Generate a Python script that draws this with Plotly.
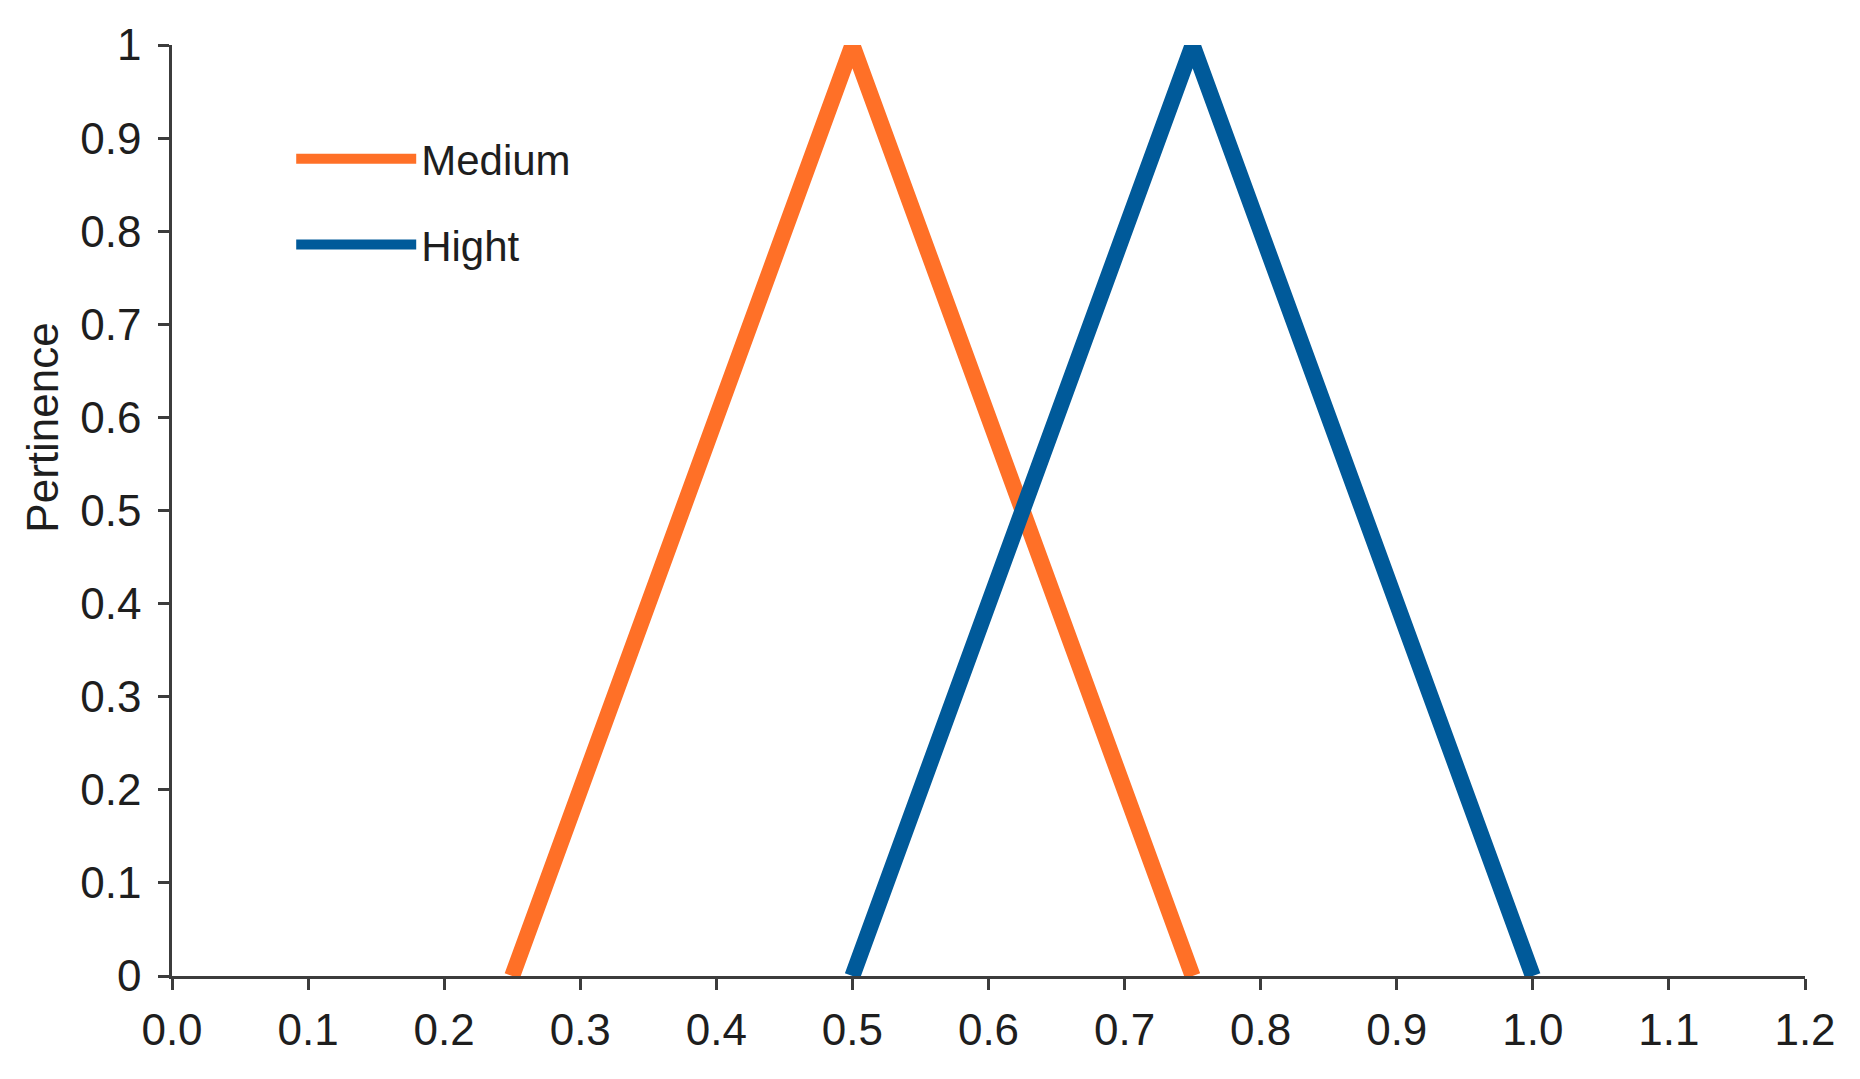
import plotly.graph_objects as go

# Data
medium_x = [0.25, 0.5, 0.75]
medium_y = [0, 1, 0]
hight_x = [0.5, 0.75, 1.0]
hight_y = [0, 1, 0]

x_ticks = [0.0, 0.1, 0.2, 0.3, 0.4, 0.5, 0.6, 0.7, 0.8, 0.9, 1.0, 1.1, 1.2]
x_tick_labels = ["0.0", "0.1", "0.2", "0.3", "0.4", "0.5", "0.6", "0.7", "0.8", "0.9", "1.0", "1.1", "1.2"]
y_ticks = [0, 0.1, 0.2, 0.3, 0.4, 0.5, 0.6, 0.7, 0.8, 0.9, 1]
y_tick_labels = ["0", "0.1", "0.2", "0.3", "0.4", "0.5", "0.6", "0.7", "0.8", "0.9", "1"]

ORANGE = "#FF7027"
BLUE = "#005A9A"
AXIS = "#3C3C3C"
TEXT = "#1E1E1E"
FONT = "Liberation Sans, Arial, sans-serif"

fig = go.Figure()
fig.add_trace(go.Scatter(x=medium_x, y=medium_y, mode="lines", name="Medium",
                         legendgroup="m",
                         line=dict(color=ORANGE, width=16), cliponaxis=False))
fig.add_trace(go.Scatter(x=hight_x, y=hight_y, mode="lines", name="Hight",
                         legendgroup="h",
                         line=dict(color=BLUE, width=16), cliponaxis=False))

fig.update_layout(
    width=1860, height=1079,
    paper_bgcolor="white", plot_bgcolor="white",
    margin=dict(l=172, r=55, t=45, b=103),
    font=dict(family=FONT, size=44, color=TEXT),
    showlegend=True,
    legend=dict(x=0.073, y=0.914, xanchor="left", yanchor="top",
                bgcolor="rgba(0,0,0,0)", itemwidth=120,
                traceorder="grouped",
                font=dict(family=FONT, size=42, color=TEXT),
                tracegroupgap=28),
    xaxis=dict(range=[0, 1.2], tickvals=x_ticks, ticktext=x_tick_labels,
               showgrid=False, zeroline=False, showline=True,
               linecolor=AXIS, linewidth=2.5, ticks="outside", ticklen=11,
               tickwidth=2.5, tickcolor=AXIS, ticklabelstandoff=2,
               tickfont=dict(family=FONT, size=44, color=TEXT)),
    yaxis=dict(range=[0, 1], tickvals=y_ticks, ticktext=y_tick_labels,
               showgrid=False, zeroline=False, showline=True,
               linecolor=AXIS, linewidth=2.5, ticks="outside", ticklen=11,
               tickwidth=2.5, tickcolor=AXIS, ticklabelstandoff=8,
               tickfont=dict(family=FONT, size=44, color=TEXT)),
    annotations=[dict(text="Pertinence", textangle=-90, showarrow=False,
                      xref="paper", yref="paper", x=-0.079, y=0.589,
                      xanchor="center", yanchor="middle",
                      font=dict(family=FONT, size=44, color=TEXT))],
)

fig.write_html("out.html")
